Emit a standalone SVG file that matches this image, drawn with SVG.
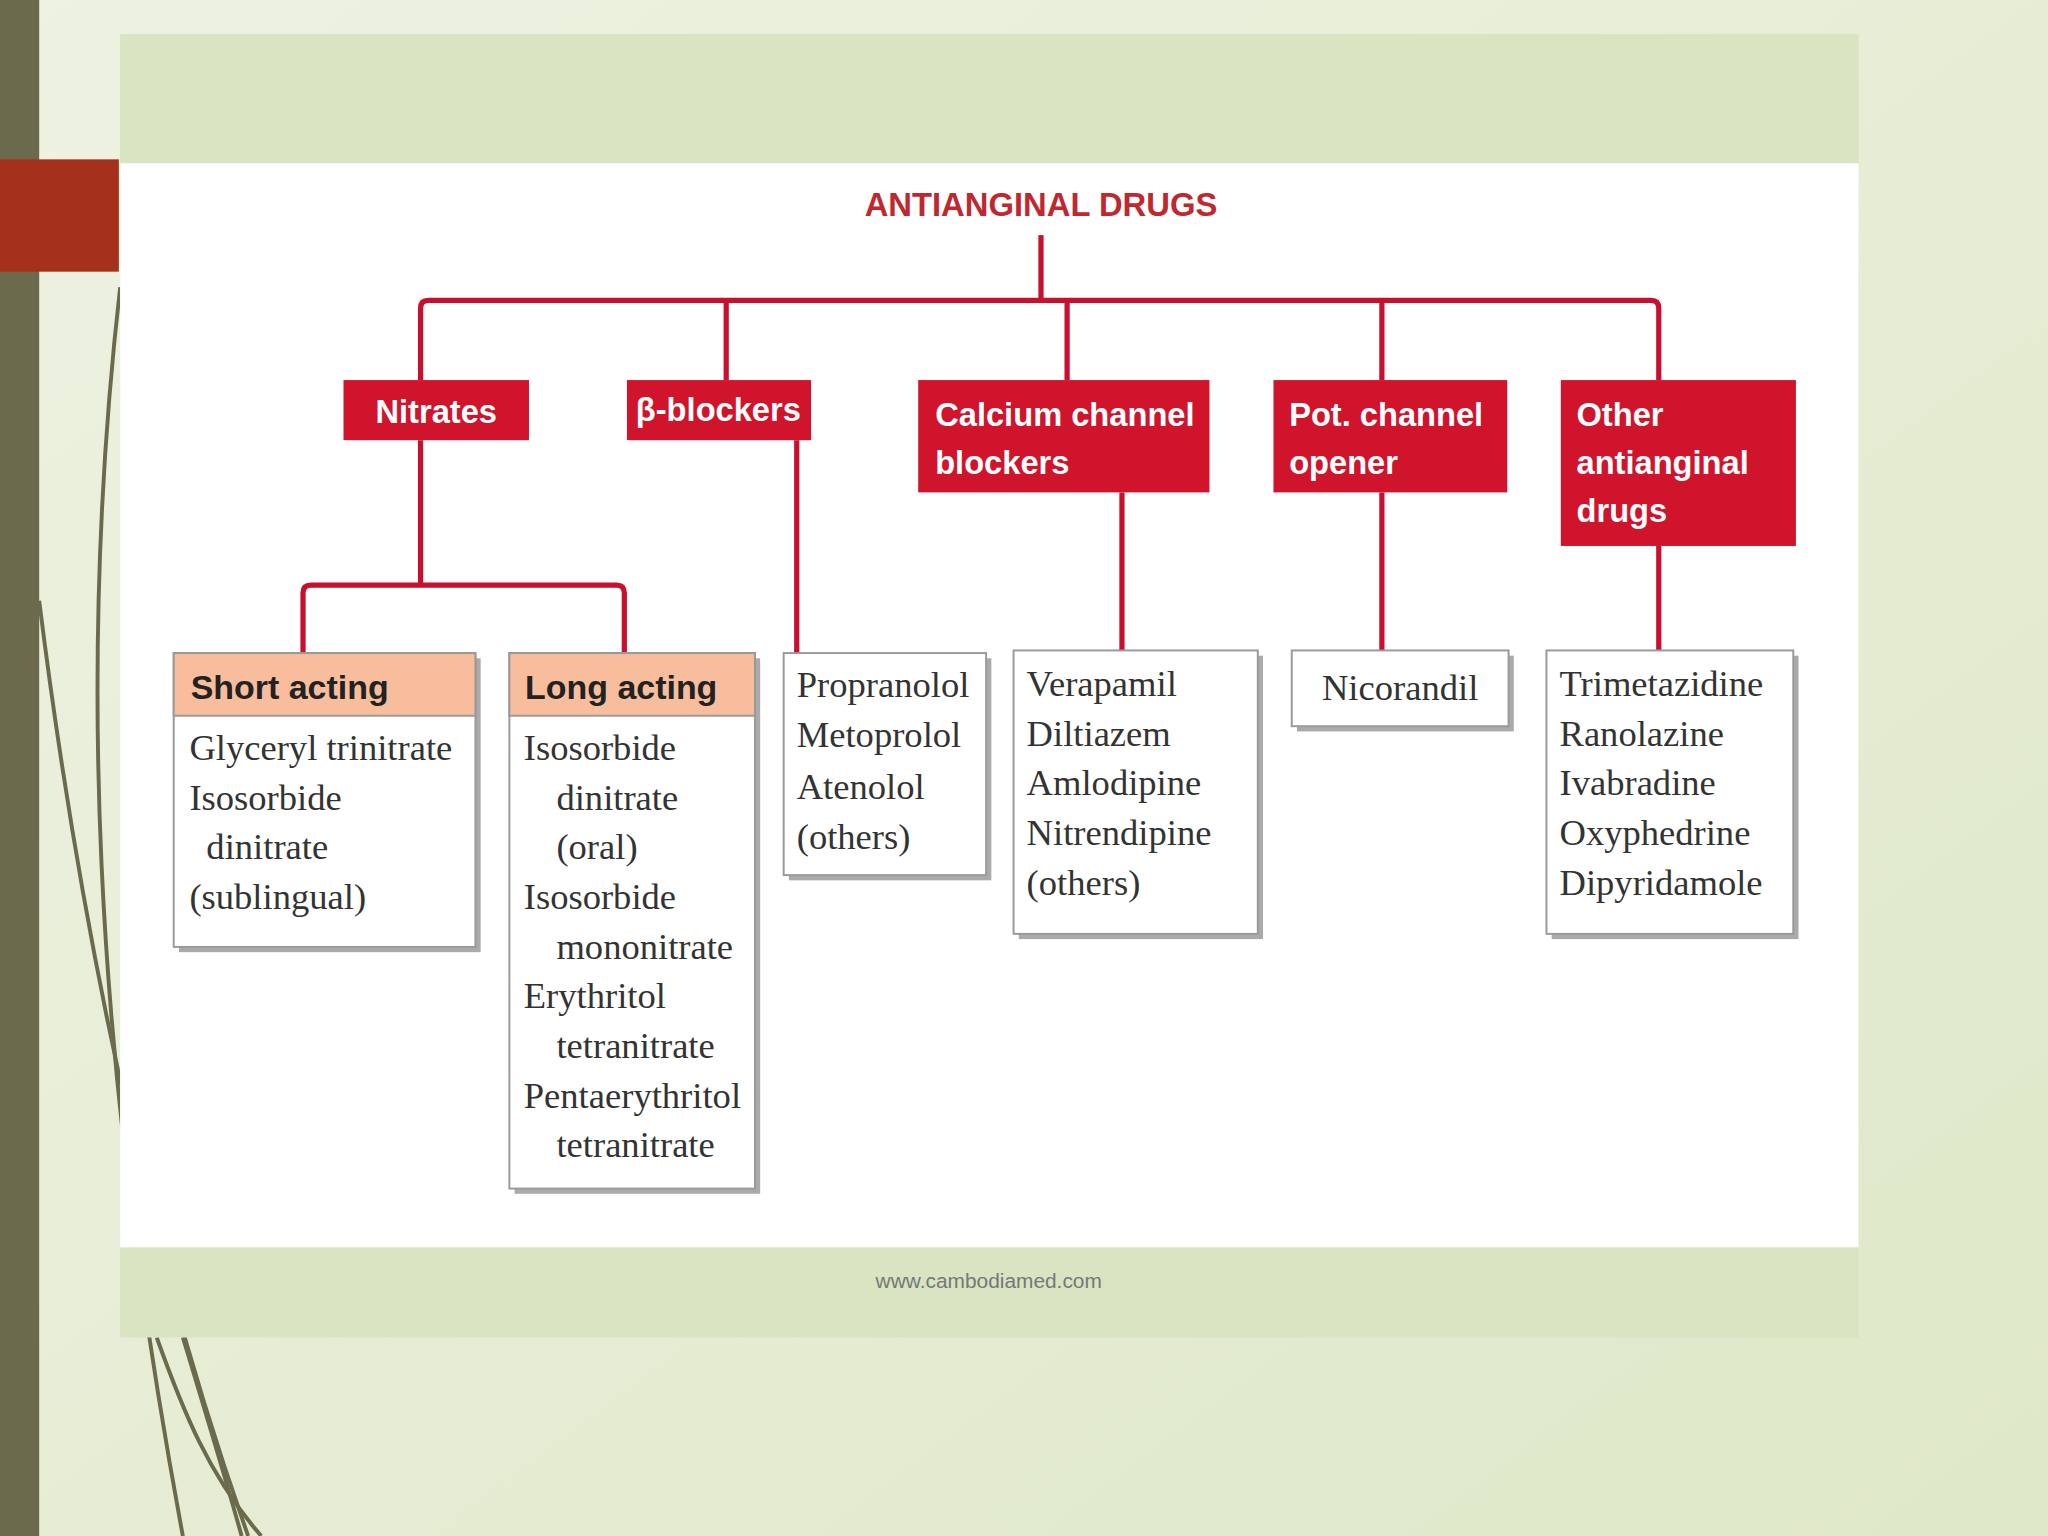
<svg xmlns="http://www.w3.org/2000/svg" width="2048" height="1536" viewBox="0 0 2048 1536">
<defs>
<linearGradient id="bg" x1="0" y1="0" x2="1" y2="1"><stop offset="0" stop-color="#eef2e2"/><stop offset="1" stop-color="#dfe8c8"/></linearGradient>
<style>
.rb{fill:#d0142c}
.rt{font-family:"Liberation Sans",Arial,sans-serif;font-weight:bold;font-size:25px;fill:#fff}
.ln{stroke:#c8102e;stroke-width:4;fill:none;stroke-linejoin:round}
.wb{fill:#fff;stroke:#999;stroke-width:1.5}
.sh{fill:#aaa}
.hd{fill:#f7bd9c;stroke:#999;stroke-width:1.5}
.ht{font-family:"Liberation Sans",Arial,sans-serif;font-weight:bold;font-size:26px;fill:#222}
.bt{font-family:"Liberation Serif","Times New Roman",serif;font-size:28px;fill:#333}
.dc{stroke:#6b6a4c;stroke-width:3;fill:none}
</style>
</defs>
<rect width="2048" height="1536" fill="url(#bg)"/>
<g transform="scale(1.30612)">
<rect x="0" y="0" width="30" height="1176" fill="#6b6a4c"/>
<rect x="0" y="122" width="91" height="86" fill="#a5301b"/>
<path class="dc" d="M92 220 C60 500 70 800 140 1176"/>
<path class="dc" d="M30 460 C60 700 110 950 190 1176"/>
<path class="dc" d="M120 1024 C140 1080 160 1130 200 1176"/>
<path class="dc" d="M140 1024 C160 1090 175 1140 185 1176"/>
<rect x="92" y="26" width="1331" height="998" fill="#d8e4c2"/>
<rect x="92" y="125" width="1331" height="830" fill="#fff"/>
<text x="757" y="986" text-anchor="middle" font-family="'Liberation Sans',Arial,sans-serif" font-size="16" fill="#777">www.cambodiamed.com</text>
<text x="797" y="165" text-anchor="middle" font-family="'Liberation Sans',Arial,sans-serif" font-weight="bold" font-size="26" fill="#c0282f" textLength="270" lengthAdjust="spacingAndGlyphs">ANTIANGINAL DRUGS</text>
<g id="connectors">
<path class="ln" d="M797 180V230"/>
<path class="ln" d="M322 291V236Q322 230 328 230H1264Q1270 230 1270 236V291"/>
<path class="ln" d="M556 230V291M817 230V291M1058 230V291"/>
<path class="ln" d="M322 337V448M232 500V454Q232 448 238 448H472Q478 448 478 454V500"/>
<path class="ln" d="M610 337V500M859 377V500M1058 377V500M1270 418V500"/>
</g>
<g id="nitrates"><rect class="rb" x="263" y="291" width="142" height="46"/><text class="rt" x="334" y="324" text-anchor="middle">Nitrates</text></g>
<g id="beta"><rect class="rb" x="480" y="291" width="141" height="46"/><text class="rt" x="550" y="322" text-anchor="middle">β-blockers</text></g>
<g id="ccb"><rect class="rb" x="703" y="291" width="223" height="86"/><text class="rt" x="716" y="326">Calcium channel</text><text class="rt" x="716" y="363">blockers</text></g>
<g id="pot"><rect class="rb" x="975" y="291" width="179" height="86"/><text class="rt" x="987" y="326">Pot. channel</text><text class="rt" x="987" y="363">opener</text></g>
<g id="other"><rect class="rb" x="1195" y="291" width="180" height="127"/><text class="rt" x="1207" y="326">Other</text><text class="rt" x="1207" y="363">antianginal</text><text class="rt" x="1207" y="400">drugs</text></g>
<g id="short"><rect class="sh" x="137" y="504" width="231" height="225"/><rect class="wb" x="133" y="500" width="231" height="225"/><rect class="hd" x="133" y="500" width="231" height="48"/><text class="ht" x="146" y="535">Short acting</text>
<text class="bt" x="145" y="582">Glyceryl trinitrate</text><text class="bt" x="145" y="620">Isosorbide</text><text class="bt" x="158" y="658">dinitrate</text><text class="bt" x="145" y="696">(sublingual)</text></g>
<g id="long"><rect class="sh" x="394" y="504" width="188" height="410"/><rect class="wb" x="390" y="500" width="188" height="410"/><rect class="hd" x="390" y="500" width="188" height="48"/><text class="ht" x="402" y="535">Long acting</text>
<text class="bt" x="401" y="582">Isosorbide</text><text class="bt" x="426" y="620">dinitrate</text><text class="bt" x="426" y="658">(oral)</text><text class="bt" x="401" y="696">Isosorbide</text><text class="bt" x="426" y="734">mononitrate</text><text class="bt" x="401" y="772">Erythritol</text><text class="bt" x="426" y="810">tetranitrate</text><text class="bt" x="401" y="848">Pentaerythritol</text><text class="bt" x="426" y="886">tetranitrate</text></g>
<g id="bl"><rect class="sh" x="604" y="504" width="155" height="170"/><rect class="wb" x="600" y="500" width="155" height="170"/>
<text class="bt" x="610" y="534">Propranolol</text><text class="bt" x="610" y="572">Metoprolol</text><text class="bt" x="610" y="612">Atenolol</text><text class="bt" x="610" y="650">(others)</text></g>
<g id="cc"><rect class="sh" x="780" y="502" width="187" height="217"/><rect class="wb" x="776" y="498" width="187" height="217"/>
<text class="bt" x="786" y="533">Verapamil</text><text class="bt" x="786" y="571">Diltiazem</text><text class="bt" x="786" y="609">Amlodipine</text><text class="bt" x="786" y="647">Nitrendipine</text><text class="bt" x="786" y="685">(others)</text></g>
<g id="nic"><rect class="sh" x="993" y="502" width="166" height="58"/><rect class="wb" x="989" y="498" width="166" height="58"/>
<text class="bt" x="1072" y="536" text-anchor="middle">Nicorandil</text></g>
<g id="oth"><rect class="sh" x="1188" y="502" width="189" height="217"/><rect class="wb" x="1184" y="498" width="189" height="217"/>
<text class="bt" x="1194" y="533">Trimetazidine</text><text class="bt" x="1194" y="571">Ranolazine</text><text class="bt" x="1194" y="609">Ivabradine</text><text class="bt" x="1194" y="647">Oxyphedrine</text><text class="bt" x="1194" y="685">Dipyridamole</text></g>
</g>
</svg>
